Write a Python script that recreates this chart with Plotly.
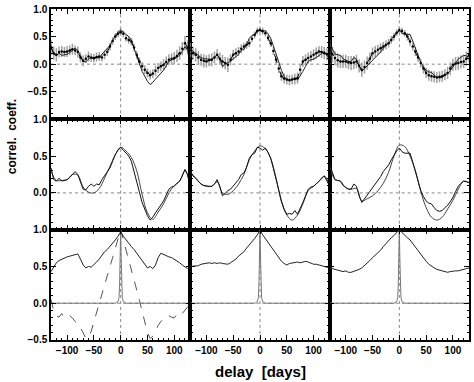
import plotly.graph_objects as go
from plotly.subplots import make_subplots

# ---------------- data ----------------
DELAY5 = list(range(-130, 131, 5))
DELAY10 = list(range(-130, 131, 10))

# Row 1: data with error bars (mean curve) per column
data_c1 = [0.30, 0.20, 0.17, 0.22, 0.23, 0.22, 0.23, 0.25, 0.27, 0.25, 0.22, 0.12, 0.06, 0.10, 0.14, 0.12, 0.11, 0.13, 0.14, 0.12,
           0.17, 0.22, 0.32, 0.42, 0.50, 0.55, 0.58, 0.55, 0.47, 0.44, 0.41, 0.30, 0.17, 0.05, -0.04, -0.10, -0.16, -0.20, -0.17, -0.12,
           -0.07, -0.04, -0.01, 0.04, 0.08, 0.10, 0.11, 0.15, 0.20, 0.28, 0.38, 0.30, 0.12]
data_c2 = [0.26, 0.20, 0.17, 0.12, 0.08, 0.06, 0.05, 0.07, 0.08, 0.12, 0.17, 0.10, 0.05, 0.02, -0.01, 0.08, 0.17, 0.20, 0.23, 0.28,
           0.32, 0.35, 0.38, 0.46, 0.53, 0.60, 0.62, 0.60, 0.56, 0.48, 0.38, 0.24, 0.08, -0.08, -0.22, -0.26, -0.28, -0.29, -0.28, -0.27,
           -0.25, -0.10, 0.05, 0.08, 0.11, 0.14, 0.17, 0.20, 0.23, 0.22, 0.20, 0.18, 0.17]
data_c3 = [0.29, 0.18, 0.11, 0.07, 0.05, 0.05, 0.05, 0.03, 0.02, 0.03, 0.05, -0.03, -0.10, -0.05, 0.02, 0.10, 0.20, 0.23, 0.26, 0.29,
           0.32, 0.35, 0.38, 0.44, 0.50, 0.57, 0.62, 0.60, 0.56, 0.50, 0.41, 0.32, 0.23, 0.12, 0.02, -0.08, -0.16, -0.20, -0.22, -0.23,
           -0.24, -0.23, -0.22, -0.19, -0.16, -0.08, -0.01, 0.01, 0.02, 0.04, 0.05, 0.10, 0.17]
err_c1 = [0.14, 0.12, 0.12, 0.10, 0.10, 0.09, 0.10, 0.09, 0.10, 0.09, 0.10, 0.09, 0.10, 0.08, 0.09, 0.08, 0.08, 0.08, 0.08, 0.07,
          0.08, 0.07, 0.07, 0.07, 0.06, 0.06, 0.06, 0.06, 0.06, 0.07, 0.07, 0.07, 0.07, 0.07, 0.08, 0.08, 0.08, 0.08, 0.08, 0.09,
          0.09, 0.09, 0.10, 0.10, 0.10, 0.10, 0.11, 0.11, 0.12, 0.12, 0.13, 0.13, 0.14]
err_c2 = [0.13, 0.12, 0.12, 0.12, 0.11, 0.12, 0.11, 0.11, 0.12, 0.11, 0.10, 0.11, 0.12, 0.11, 0.13, 0.10, 0.09, 0.09, 0.08, 0.08,
          0.07, 0.07, 0.07, 0.06, 0.06, 0.06, 0.05, 0.06, 0.06, 0.06, 0.07, 0.07, 0.07, 0.08, 0.08, 0.09, 0.09, 0.09, 0.09, 0.10,
          0.10, 0.10, 0.10, 0.10, 0.10, 0.10, 0.10, 0.10, 0.10, 0.11, 0.11, 0.11, 0.11]
err_c3 = [0.14, 0.14, 0.13, 0.13, 0.12, 0.12, 0.12, 0.12, 0.13, 0.12, 0.12, 0.12, 0.13, 0.12, 0.12, 0.11, 0.10, 0.10, 0.09, 0.09,
          0.08, 0.08, 0.08, 0.07, 0.07, 0.06, 0.06, 0.06, 0.06, 0.07, 0.07, 0.07, 0.08, 0.08, 0.08, 0.09, 0.09, 0.10, 0.10, 0.10,
          0.10, 0.10, 0.10, 0.10, 0.11, 0.11, 0.11, 0.12, 0.12, 0.12, 0.12, 0.13, 0.13]

# Row 2: noisy cross-correlation curve (also shown in row 1 as thin line)
ccf_c1 = [0.34, 0.18, 0.16, 0.20, 0.16, 0.17, 0.18, 0.21, 0.25, 0.29, 0.25, 0.16, 0.05, 0.04, 0.09, 0.12, 0.09, 0.12, 0.11, 0.18,
          0.23, 0.28, 0.34, 0.43, 0.52, 0.58, 0.62, 0.58, 0.54, 0.50, 0.43, 0.30, 0.16, 0.01, -0.13, -0.23, -0.31, -0.37, -0.33, -0.27,
          -0.22, -0.16, -0.11, -0.03, 0.05, 0.08, 0.09, 0.13, 0.16, 0.23, 0.32, 0.25, 0.07]
ccf_c2 = [0.29, 0.23, 0.20, 0.16, 0.12, 0.10, 0.09, 0.09, 0.09, 0.12, 0.18, 0.09, -0.04, 0.00, 0.03, 0.05, 0.09, 0.14, 0.18, 0.25,
          0.27, 0.35, 0.47, 0.52, 0.54, 0.62, 0.61, 0.58, 0.61, 0.55, 0.47, 0.33, 0.20, 0.04, -0.11, -0.22, -0.29, -0.28, -0.29, -0.24,
          -0.29, -0.22, -0.13, -0.04, 0.05, 0.08, 0.09, 0.12, 0.16, 0.20, 0.23, 0.16, 0.09]
ccf_c3 = [0.38, 0.27, 0.18, 0.17, 0.16, 0.10, 0.07, 0.05, 0.05, 0.12, 0.09, -0.04, -0.13, -0.08, -0.04, 0.01, 0.07, 0.12, 0.16, 0.22,
          0.29, 0.33, 0.38, 0.45, 0.52, 0.57, 0.61, 0.56, 0.54, 0.54, 0.54, 0.42, 0.29, 0.16, 0.03, -0.05, -0.11, -0.14, -0.15, -0.20,
          -0.24, -0.25, -0.24, -0.20, -0.17, -0.12, -0.06, 0.02, 0.09, 0.13, 0.16, 0.15, 0.14]

# Row 2: smooth model curve
model_c1 = [0.30, 0.17, 0.17, 0.18, 0.25, 0.24, 0.08, 0.01, 0.00, 0.06, 0.20, 0.36, 0.52, 0.62,
            0.57, 0.48, 0.30, -0.02, -0.27, -0.36, -0.26, -0.15, 0.00, 0.10, 0.16, 0.30, 0.10]
model_c2 = [0.29, 0.20, 0.12, 0.09, 0.09, 0.15, 0.00, -0.02, 0.03, 0.12, 0.25, 0.45, 0.57, 0.64,
            0.60, 0.47, 0.20, -0.12, -0.30, -0.37, -0.30, -0.15, 0.03, 0.09, 0.16, 0.23, 0.09]
model_c3 = [0.38, 0.18, 0.16, 0.07, 0.05, 0.06, -0.11, -0.08, -0.04, 0.03, 0.13, 0.28, 0.50, 0.65,
            0.63, 0.50, 0.30, 0.02, -0.20, -0.33, -0.37, -0.33, -0.22, -0.10, 0.05, 0.16, 0.14]

# Row 3: auto-correlation curves
acf_c1 = [0.43, 0.50, 0.55, 0.58, 0.60, 0.61, 0.63, 0.64, 0.65, 0.67, 0.67, 0.60, 0.52, 0.48, 0.50, 0.49, 0.52, 0.56, 0.60, 0.65,
          0.70, 0.73, 0.77, 0.82, 0.86, 0.91, 0.97, 0.91, 0.86, 0.82, 0.77, 0.73, 0.68, 0.63, 0.58, 0.52, 0.48, 0.50, 0.47, 0.52,
          0.62, 0.68, 0.66, 0.65, 0.63, 0.62, 0.60, 0.58, 0.55, 0.52, 0.50, 0.47, 0.44]
acf_c2 = [0.50, 0.50, 0.50, 0.51, 0.53, 0.54, 0.55, 0.55, 0.54, 0.55, 0.54, 0.55, 0.54, 0.53, 0.53, 0.55, 0.57, 0.60, 0.64, 0.67,
          0.70, 0.75, 0.79, 0.84, 0.88, 0.93, 0.99, 0.93, 0.88, 0.83, 0.78, 0.73, 0.68, 0.62, 0.57, 0.54, 0.52, 0.54, 0.55, 0.55,
          0.56, 0.55, 0.56, 0.57, 0.56, 0.54, 0.53, 0.53, 0.52, 0.51, 0.50, 0.49, 0.48]
acf_c3 = [0.48, 0.47, 0.46, 0.45, 0.44, 0.43, 0.44, 0.42, 0.42, 0.43, 0.44, 0.46, 0.48, 0.51, 0.55, 0.58, 0.62, 0.65, 0.68, 0.72,
          0.77, 0.81, 0.86, 0.89, 0.92, 0.96, 1.00, 0.96, 0.92, 0.89, 0.86, 0.81, 0.77, 0.71, 0.66, 0.61, 0.57, 0.53, 0.50, 0.48,
          0.46, 0.45, 0.44, 0.43, 0.42, 0.43, 0.44, 0.44, 0.44, 0.45, 0.46, 0.47, 0.48]
acf_dash_c1 = [0.05, -0.10, -0.17, -0.19, -0.14, -0.20, -0.20, -0.17, -0.20, -0.25, -0.27, -0.33, -0.40, -0.48, -0.47, -0.38, -0.25, -0.12, 0.00, 0.12,
               0.24, 0.37, 0.50, 0.62, 0.75, 0.87, 1.00, 0.86, 0.73, 0.59, 0.45, 0.31, 0.18, 0.04, -0.10, -0.25, -0.40, -0.48, -0.45, -0.38,
               -0.30, -0.25, -0.20, -0.20, -0.17, -0.19, -0.20, -0.15, -0.18, -0.14, -0.10, -0.05, 0.02]
SPIKE_DELAY = [-130, -10, -5, -3, -2, -1, 0, 1, 2, 3, 5, 10, 130]
spike = [0.0, 0.0, 0.02, 0.08, 0.25, 0.6, 1.0, 0.6, 0.25, 0.08, 0.02, 0.0, 0.0]

ROW_RANGES = [[-1.0, 1.0], [-0.5, 1.0], [-0.5, 1.0]]
# tick labels suppressed where panels meet (the lower panel's top label is shown instead)
ROW_HIDDEN_LABEL = ['\u22121.0', '\u22120.5', None]

# ---------------- figure ----------------
fig = make_subplots(rows=3, cols=3, horizontal_spacing=0, vertical_spacing=0)

data_cols = [data_c1, data_c2, data_c3]
err_cols = [err_c1, err_c2, err_c3]
ccf_cols = [ccf_c1, ccf_c2, ccf_c3]
model_cols = [model_c1, model_c2, model_c3]
acf_cols = [acf_c1, acf_c2, acf_c3]

for c in range(3):
    col = c + 1
    # row 1
    fig.add_trace(go.Scatter(x=DELAY5, y=data_cols[c], mode='markers',
                             marker=dict(size=0.1, color='rgba(0,0,0,0)'),
                             error_y=dict(type='data', array=err_cols[c], color='#a0a0a0', thickness=1.5, width=0)),
                  row=1, col=col)
    fig.add_trace(go.Scatter(x=DELAY5, y=ccf_cols[c], mode='lines',
                             line=dict(color='#222', width=1)), row=1, col=col)
    fig.add_trace(go.Scatter(x=DELAY5, y=data_cols[c], mode='lines+markers',
                             line=dict(color='black', width=1, dash='dash'),
                             marker=dict(size=2.5, color='black')), row=1, col=col)
    # row 2
    fig.add_trace(go.Scatter(x=DELAY10, y=model_cols[c], mode='lines', line_shape='spline',
                             line=dict(color='#444', width=1)), row=2, col=col)
    fig.add_trace(go.Scatter(x=DELAY5, y=ccf_cols[c], mode='lines',
                             line=dict(color='#111', width=1)), row=2, col=col)
    # row 3
    if c == 0:
        fig.add_trace(go.Scatter(x=DELAY5, y=acf_dash_c1, mode='lines',
                                 line=dict(color='#555', width=1, dash='dash')), row=3, col=col)
    fig.add_trace(go.Scatter(x=SPIKE_DELAY, y=spike, mode='lines',
                             line=dict(color='#777', width=1)), row=3, col=col)
    fig.add_trace(go.Scatter(x=DELAY5, y=acf_cols[c], mode='lines',
                             line=dict(color='#222', width=1)), row=3, col=col)

    for r in range(3):
        fig.add_shape(type='line', x0=0, x1=0, y0=ROW_RANGES[r][0], y1=ROW_RANGES[r][1],
                      line=dict(color='#888', width=1, dash='dot'), layer='below', row=r + 1, col=col)
        fig.add_shape(type='line', x0=-130, x1=130, y0=0, y1=0,
                      line=dict(color='#888', width=1, dash='dot'), layer='below', row=r + 1, col=col)

tickfont = dict(family='Liberation Sans', size=10, color='black', weight='bold')
for r in range(3):
    alias = {ROW_HIDDEN_LABEL[r]: ' '} if ROW_HIDDEN_LABEL[r] else None
    for c in range(3):
        fig.update_xaxes(range=[-130, 130], tickmode='linear', tick0=0, dtick=50,
                         ticks='inside', ticklen=5, tickwidth=1, tickcolor='black',
                         minor=dict(tickmode='linear', tick0=0, dtick=10, ticks='inside', ticklen=2.5,
                                    tickwidth=1, tickcolor='black', showgrid=False),
                         showline=True, linecolor='black', linewidth=1.5, mirror='ticks',
                         showgrid=False, zeroline=False, showticklabels=(r == 2), tickfont=tickfont,
                         row=r + 1, col=c + 1)
        fig.update_yaxes(range=ROW_RANGES[r], tickmode='linear', tick0=0, dtick=0.5, tickformat='.1f',
                         labelalias=alias,
                         ticks='inside', ticklen=5, tickwidth=1, tickcolor='black',
                         minor=dict(tickmode='linear', tick0=0, dtick=0.1, ticks='inside', ticklen=2.5,
                                    tickwidth=1, tickcolor='black', showgrid=False),
                         showline=True, linecolor='black', linewidth=1.5, mirror='ticks',
                         showgrid=False, zeroline=False, showticklabels=(c == 0), tickfont=tickfont,
                         row=r + 1, col=c + 1)

fig.add_annotation(text='correl.  coeff.', xref='paper', yref='paper', x=-0.093, y=0.613,
                   xanchor='center', yanchor='middle',
                   textangle=-90, showarrow=False,
                   font=dict(family='Liberation Sans', size=12, color='black', weight='bold'))
fig.add_annotation(text='delay  [days]', xref='paper', yref='paper', x=0.5, y=-0.096,
                   xanchor='center', yanchor='middle', showarrow=False,
                   font=dict(family='Liberation Sans', size=15, color='black', weight='bold'))

fig.update_layout(width=474, height=382, margin=dict(l=51, r=3, t=7, b=42),
                  paper_bgcolor='white', plot_bgcolor='white', showlegend=False)

fig.write_html('out.html', config={'displayModeBar': False},
               post_script="document.body.style.margin='0';document.body.style.padding='0';document.body.style.overflow='hidden';")
